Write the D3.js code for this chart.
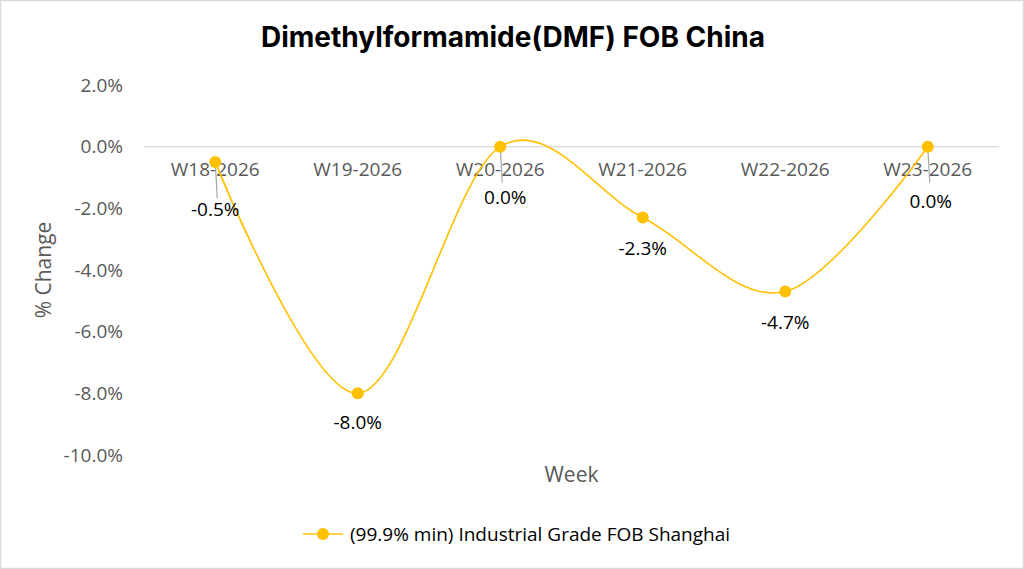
<!DOCTYPE html>
<html>
<head>
<meta charset="utf-8">
<script src="https://cdn.jsdelivr.net/npm/d3@7"></script>
<style>
  html, body { margin: 0; padding: 0; background: #fff; }
  svg { display: block; font-family: "Open Sans", "Liberation Sans", sans-serif; }
</style>
</head>
<body>
<script>
// DMF FOB China weekly % change
const weeks = ['W18-2026', 'W19-2026', 'W20-2026', 'W21-2026', 'W22-2026', 'W23-2026'];
const changes = [-0.5, -8.0, 0.0, -2.3, -4.7, 0.0];
const yTicks = [2, 0, -2, -4, -6, -8, -10];
const seriesName = '(99.9% min) Industrial Grade FOB Shanghai';

const W = 1024, H = 569;
const m = { left: 144, right: 25, top: 85, bottom: 114 };
const gold = '#FFC000';

const svg = d3.select('body').append('svg').attr('width', W).attr('height', H);

svg.append('rect').attr('x', 0.5).attr('y', 0.5).attr('width', W - 1).attr('height', H - 1)
  .attr('fill', '#fff').attr('stroke', '#d9d9d9').attr('stroke-width', 1.5);

const x = d3.scaleBand().domain(weeks).range([m.left, W - m.right]);
const y = d3.scaleLinear().domain([-10, 2]).range([H - m.bottom, m.top]);

svg.append('text')
  .attr('x', W / 2 + 1).attr('y', 47)
  .attr('text-anchor', 'middle')
  .attr('font-family', 'Inter, "Open Sans", sans-serif')
  .attr('font-weight', 700).attr('font-size', 28).attr('fill', '#000')
  .text('Dimethylformamide(DMF) FOB China');

// y axis labels (no axis line)
const yAxis = svg.append('g').attr('transform', `translate(${m.left - 18},0)`)
  .call(d3.axisLeft(y).tickValues(yTicks).tickSize(0).tickFormat(d => d.toFixed(1) + '%'));
yAxis.select('.domain').remove();
yAxis.selectAll('text').attr('font-size', 19).attr('fill', '#595959')
  .attr('font-family', '"Open Sans", sans-serif');

// category axis at zero
svg.append('line')
  .attr('x1', m.left).attr('x2', W - m.right)
  .attr('y1', y(0)).attr('y2', y(0))
  .attr('stroke', '#d9d9d9').attr('stroke-width', 1.2);

const xAxis = svg.append('g').attr('transform', `translate(0,${y(0)})`)
  .call(d3.axisBottom(x).tickSize(0).tickPadding(16));
xAxis.select('.domain').remove();
xAxis.selectAll('text').attr('font-size', 19).attr('fill', '#595959')
  .attr('font-family', '"Open Sans", sans-serif');

// axis titles
svg.append('text')
  .attr('transform', `translate(51,${(y(2) + y(-10)) / 2}) rotate(-90)`)
  .attr('text-anchor', 'middle').attr('font-size', 21).attr('fill', '#595959')
  .text('% Change');
svg.append('text')
  .attr('x', (m.left + W - m.right) / 2).attr('y', 482)
  .attr('text-anchor', 'middle').attr('font-size', 21).attr('fill', '#595959')
  .text('Week');

const cx = d => x(d) + x.bandwidth() / 2;
const pts = weeks.map((w, i) => [cx(w), y(changes[i])]);

// leader lines for labels that sit on the category labels
const labelOffsets = [
  { dx: 0, dy: 54, leader: true },
  { dx: 0, dy: 36 },
  { dx: 5, dy: 57, leader: true },
  { dx: 0, dy: 37 },
  { dx: 0, dy: 37 },
  { dx: 3, dy: 61, leader: true },
];

svg.append('g').selectAll('line').data(pts.filter((p, i) => labelOffsets[i].leader))
  .join('line')
  .attr('x1', p => p[0]).attr('y1', p => p[1])
  .attr('x2', (p, i) => p[0] + 2).attr('y2', p => p[1] + 36)
  .attr('stroke', '#a6a6a6').attr('stroke-width', 1.2);

svg.append('path')
  .attr('d', d3.line().curve(d3.curveCatmullRom.alpha(0))(pts))
  .attr('fill', 'none').attr('stroke', gold).attr('stroke-width', 1.6);

svg.append('g').selectAll('circle').data(pts).join('circle')
  .attr('cx', p => p[0]).attr('cy', p => p[1]).attr('r', 6)
  .attr('fill', gold);

svg.append('g').selectAll('text').data(changes).join('text')
  .attr('x', (d, i) => pts[i][0] + labelOffsets[i].dx)
  .attr('y', (d, i) => pts[i][1] + labelOffsets[i].dy)
  .attr('text-anchor', 'middle').attr('font-size', 19).attr('fill', '#000')
  .text(d => d.toFixed(1) + '%');

// legend
const lg = svg.append('g').attr('transform', 'translate(303,534)');
lg.append('line').attr('x1', 0).attr('x2', 40).attr('stroke', gold).attr('stroke-width', 1.6);
lg.append('circle').attr('cx', 20).attr('r', 6).attr('fill', gold);
lg.append('text').attr('x', 47).attr('y', 7).attr('font-size', 19).attr('fill', '#000')
  .text(seriesName);
</script>
</body>
</html>
